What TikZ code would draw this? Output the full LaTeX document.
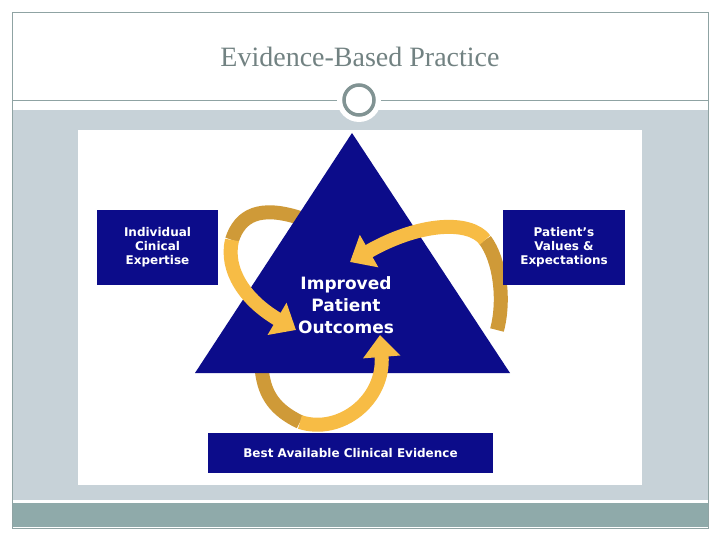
\documentclass[tikz,border=0pt]{standalone}
\usepackage{fontspec}
\setmainfont{Liberation Serif}
\newfontfamily\boxfont{DejaVu Sans}
\usetikzlibrary{arrows.meta}
\definecolor{navy}{HTML}{0C0C8A}
\definecolor{goldL}{HTML}{F7BC45}
\definecolor{goldD}{HTML}{CF9A38}
\definecolor{frame}{HTML}{8FA3A3}
\definecolor{band}{HTML}{C7D2D8}
\definecolor{footer}{HTML}{8FAAAA}
\tikzset{
  navybox/.style={fill=navy, draw=none, text=white, font=\boxfont\bfseries\fontsize{12}{14}\selectfont, align=center},
  ribbon/.style={line width=14pt, draw=goldL, -{Triangle[length=22pt,width=36pt]}},
  ribbonback/.style={line width=14pt, draw=goldD}
}
\begin{document}
\begin{tikzpicture}[x=1pt,y=-1pt]
\useasboundingbox (0,0) rectangle (720,540);
\fill[white] (0,0) rectangle (720,540);
\fill[band] (12,110) rectangle (708,500);
\fill[footer] (12,503) rectangle (708,527);
\draw[frame, line width=0.8pt] (12,12) rectangle (708,528);
\draw[frame, line width=0.8pt] (12,100) -- (708,100);
\fill[white] (359,100) circle (22);
\draw[frame!90!black, line width=3.5pt] (359,100) circle (15);
\node (title) at (360,57) {\color{frame!80!black}\fontsize{28}{32}\selectfont Evidence-Based Practice};
\fill[white] (78,130) rectangle (642,485);
% back parts of ribbons
\draw[ribbonback] (300,218) .. controls (260,205) and (240,215) .. (232,240);
\draw[ribbonback] (497,330) .. controls (505,300) and (500,260) .. (485,240);
\draw[ribbonback] (262,372) .. controls (265,395) and (275,410) .. (300,422);
% triangle
\fill[navy] (352,133) -- (510,373) -- (195,373) -- cycle;
\node[navybox, minimum width=121pt, minimum height=75pt] (left) at (157.5,247.5) {Individual\\Cinical\\Expertise};
\node[navybox, minimum width=122pt, minimum height=75pt] (right) at (564,247.5) {Patient’s\\Values \&\\Expectations};
\node[navybox, minimum width=285pt, minimum height=40pt] (bottom) at (350.5,453) {Best Available Clinical Evidence};
% front ribbons
\draw[ribbon] (232,240) .. controls (225,270) and (245,300) .. (296,330);
\draw[ribbon] (485,240) .. controls (470,220) and (420,222) .. (350,262);
\draw[ribbon] (300,422) .. controls (340,435) and (385,400) .. (380,335);
\node[text=white, font=\boxfont\bfseries\fontsize{17}{22}\selectfont, align=center] (center) at (346,305) {Improved\\Patient\\Outcomes};
\end{tikzpicture}
\end{document}
